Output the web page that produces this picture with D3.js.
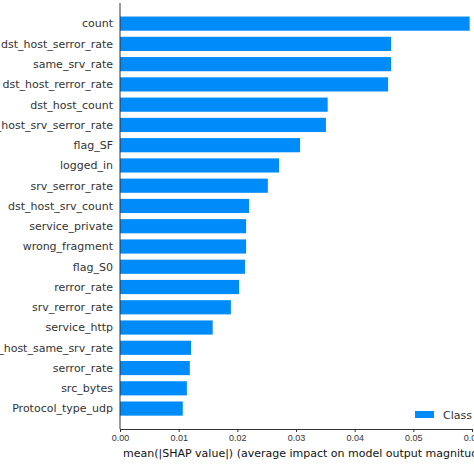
<!DOCTYPE html>
<html>
<head>
<meta charset="utf-8">
<style>
    body { margin: 0; background: #fff; }
    svg { display: block; font-family: 'DejaVu Sans', sans-serif; }
    .feat { font-size: 11px; fill: #333; }
    .x .tick text { font-size: 9px; fill: #333; }
    .x .tick line, .x .domain { stroke: #333; }
    .xlabel { font-size: 11px; fill: #111; }
    .legend { font-size: 11px; fill: #333; }
</style>
</head>
<body>
<svg width="474" height="474"></svg>
<script src="https://d3js.org/d3.v7.min.js"></script>
<script>
    let features = ["count", "dst_host_serror_rate", "same_srv_rate", "dst_host_rerror_rate",
        "dst_host_count", "dst_host_srv_serror_rate", "flag_SF", "logged_in", "srv_serror_rate",
        "dst_host_srv_count", "service_private", "wrong_fragment", "flag_S0", "rerror_rate",
        "srv_rerror_rate", "service_http", "dst_host_same_srv_rate", "serror_rate", "src_bytes",
        "Protocol_type_udp"]
    let shapValues = [0.0596, 0.0462, 0.0462, 0.0457, 0.0354, 0.0351, 0.0307, 0.0271, 0.0252,
        0.0220, 0.0215, 0.0215, 0.0213, 0.0203, 0.0189, 0.0158, 0.0121, 0.0119, 0.0114, 0.0107]
    let xTicks = [0, 0.01, 0.02, 0.03, 0.04, 0.05, 0.06]

    let data = features.map((f, i) => ({ name: f, value: shapValues[i] }))

    let svg = d3.select("svg")
    let margin = { left: 120, top: 13.5, axisY: 429 }

    let x = d3.scaleLinear()
        .domain([0, 0.06])
        .range([margin.left, 472])

    let y = d3.scaleBand()
        .domain(features)
        .range([margin.top, margin.top + 20.26 * features.length])
        .paddingInner(0.3)
        .paddingOuter(0.15)

    svg.append("g")
        .selectAll("rect")
        .data(data)
        .join("rect")
        .attr("x", x(0))
        .attr("y", d => y(d.name))
        .attr("width", d => x(d.value) - x(0))
        .attr("height", y.bandwidth())
        .attr("fill", "#008bfb")

    svg.append("g")
        .selectAll("text")
        .data(data)
        .join("text")
        .attr("class", "feat")
        .attr("x", x(0) - 7)
        .attr("y", d => y(d.name) + y.bandwidth() / 2)
        .attr("dy", "0.35em")
        .attr("text-anchor", "end")
        .text(d => d.name)

    // left spine
    svg.append("line")
        .attr("x1", x(0)).attr("x2", x(0))
        .attr("y1", 3).attr("y2", margin.axisY)
        .attr("stroke", "#333")
        .attr("stroke-width", 1)

    let xAxis = d3.axisBottom(x)
        .tickValues(xTicks)
        .tickFormat(d3.format(".2f"))
        .tickSize(3)
        .tickPadding(3)
        .tickSizeOuter(0)

    svg.append("g")
        .attr("class", "x")
        .attr("transform", `translate(0,${margin.axisY})`)
        .call(xAxis)

    svg.append("text")
        .attr("class", "xlabel")
        .attr("x", 123)
        .attr("y", 457)
        .text("mean(|SHAP value|) (average impact on model output magnitude)")

    // legend
    svg.append("rect")
        .attr("x", 415).attr("y", 411)
        .attr("width", 19).attr("height", 7)
        .attr("fill", "#008bfb")
    svg.append("text")
        .attr("class", "legend")
        .attr("x", 443).attr("y", 415)
        .attr("dy", "0.35em")
        .text("Class 0")
</script>
</body>
</html>
